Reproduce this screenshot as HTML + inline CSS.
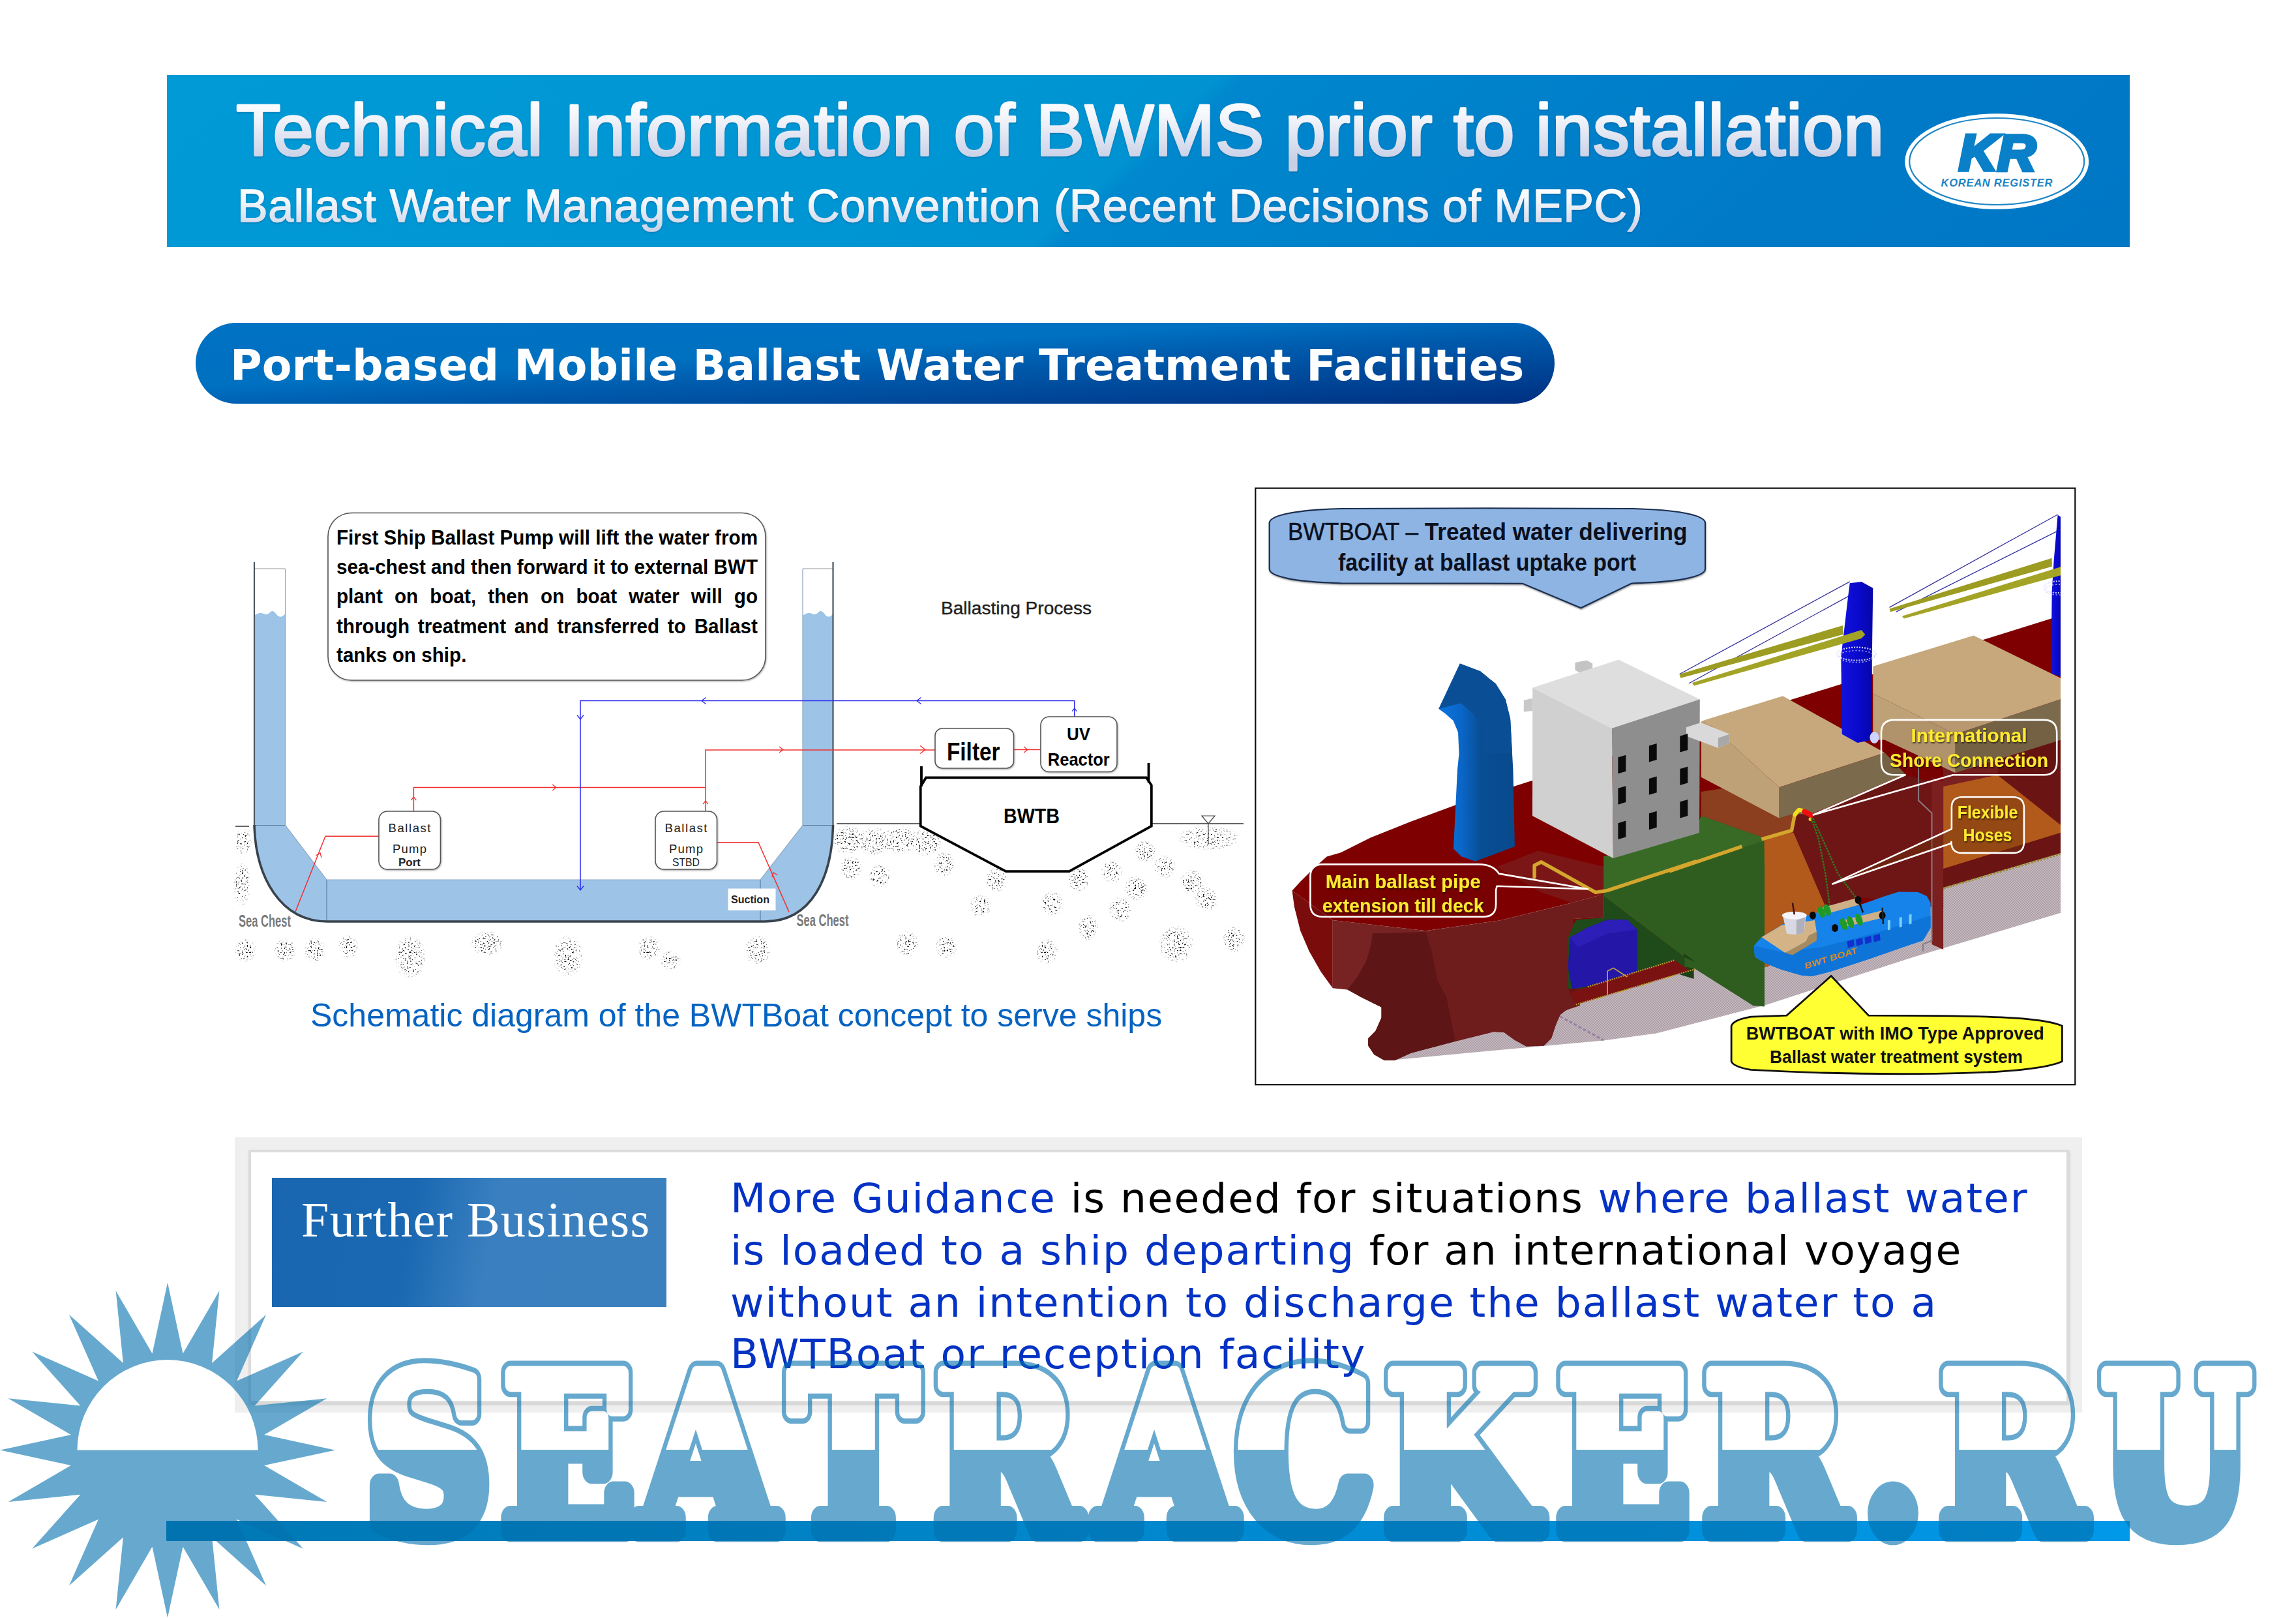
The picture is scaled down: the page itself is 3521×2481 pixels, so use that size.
<!DOCTYPE html>
<html lang="en">
<head>
<meta charset="utf-8">
<title>Technical Information of BWMS prior to installation</title>
<style>
html,body{margin:0;padding:0;background:#fff;}
body{width:3521px;height:2481px;position:relative;overflow:hidden;font-family:"Liberation Sans",sans-serif;}
.abs{position:absolute;}
#banner{left:256px;top:115px;width:3010px;height:264px;background:linear-gradient(138deg,#009AD6 0%,#0095D3 40%,#0092D1 49%,#0087CD 50.2%,#0083CB 60%,#007AC7 80%,#0077C5 100%);}
#pill{left:300px;top:495px;width:2084px;height:124px;border-radius:62px;background:linear-gradient(to bottom right,#0072C4 0%,#0070C0 40%,#005CAE 55%,#002F80 100%);}
#pilltext{left:353px;top:518px;letter-spacing:0.09px;font-family:"DejaVu Sans",sans-serif;font-weight:bold;font-size:66.5px;line-height:84px;color:#fff;white-space:nowrap;}
#caption{left:476px;top:1527px;font-size:50px;line-height:60px;color:#0563C1;white-space:nowrap;}
#fbouter{left:360px;top:1744px;width:2833px;height:422px;background:#efefef;}
#fbinner{left:381px;top:1763px;width:2784px;height:381px;background:#fff;border:4px solid #dcdcdc;box-shadow:1px 2px 3px rgba(0,0,0,.15);}
#fbbox{left:417px;top:1806px;width:605px;height:198px;background:linear-gradient(100deg,#1a66b0 0%,#1a68b2 35%,#3a80c0 55%,#3a80be 100%);}
#fbtext{left:462px;top:1828px;font-family:"Liberation Serif",serif;font-size:76px;line-height:84px;letter-spacing:1.4px;color:#fff;white-space:nowrap;}
#para{left:1120px;top:1798px;font-family:"DejaVu Sans",sans-serif;font-size:63px;line-height:79.8px;letter-spacing:1.95px;color:#000;white-space:nowrap;}
#para b{font-weight:normal;color:#0432c4;}
#botbar{left:255px;top:2332px;width:3011px;height:31px;background:linear-gradient(90deg,#0078B4,#0098E8);}
</style>
</head>
<body>
<div id="banner" class="abs"></div>
<svg class="abs" style="left:256px;top:115px" width="3010" height="264" viewBox="256 115 3010 264">
<defs><linearGradient id="tg1" gradientUnits="userSpaceOnUse" x1="0" y1="150" x2="0" y2="245"><stop offset="0" stop-color="#ffffff"/><stop offset=".3" stop-color="#f4f6fb"/><stop offset="1" stop-color="#c9d0e6"/></linearGradient>
<linearGradient id="tg2" gradientUnits="userSpaceOnUse" x1="0" y1="288" x2="0" y2="358"><stop offset="0" stop-color="#ffffff"/><stop offset=".3" stop-color="#f2f5fa"/><stop offset="1" stop-color="#c9d0e6"/></linearGradient>
<filter id="tsh0" x="-1%" y="-10%" width="102%" height="130%"><feDropShadow dx="0" dy="1.5" stdDeviation="1.2" flood-color="#003a70" flood-opacity=".35"/></filter></defs>
<text id="title" x="362" y="237.7" font-family="Liberation Sans, sans-serif" font-size="112" fill="url(#tg1)" stroke="url(#tg1)" stroke-width="3.4" stroke-linejoin="round" letter-spacing="0.5" filter="url(#tsh0)">Technical Information of BWMS prior to installation</text>
<text id="subtitle" x="364" y="340.3" font-family="Liberation Sans, sans-serif" font-size="70" fill="url(#tg2)" stroke="url(#tg2)" stroke-width="1.3" stroke-linejoin="round" letter-spacing="0.48" filter="url(#tsh0)">Ballast Water Management Convention (Recent Decisions of MEPC)</text>
</svg>
<svg class="abs" style="left:2900px;top:160px" width="330" height="180" viewBox="2900 160 330 180">
<ellipse cx="3062.2" cy="247.5" rx="141" ry="73.3" fill="#fff"/>
<ellipse cx="3062.2" cy="247.5" rx="134" ry="66.5" fill="none" stroke="#1e86c6" stroke-width="2.2"/>
<text x="3063" y="260.5" text-anchor="middle" font-family="Liberation Sans, sans-serif" font-weight="bold" font-style="italic" font-size="78" fill="#0a80c8" stroke="#0a80c8" stroke-width="5.5" stroke-linejoin="miter" textLength="118" lengthAdjust="spacingAndGlyphs">KR</text>
<text x="3062" y="286" text-anchor="middle" font-family="Liberation Sans, sans-serif" font-weight="bold" font-style="italic" font-size="16.5" fill="#1a84c4" textLength="171" lengthAdjust="spacing">KOREAN REGISTER</text>
</svg>
<div id="pill" class="abs"></div>
<div id="pilltext" class="abs">Port-based Mobile Ballast Water Treatment Facilities</div>
<svg class="abs" style="left:0;top:0" width="3521" height="2481" viewBox="0 0 3521 2481"><defs>
<filter id="spk" x="0" y="0" width="100%" height="100%" color-interpolation-filters="sRGB"><feTurbulence type="fractalNoise" baseFrequency="0.42" numOctaves="2" seed="11" result="n"/><feColorMatrix in="n" type="matrix" values="0 0 0 0 0  0 0 0 0 0  0 0 0 0 0  10 0 0 0 -6.1"/></filter>
<radialGradient id="blobg"><stop offset="0" stop-color="#fff"/><stop offset=".6" stop-color="#fff" stop-opacity=".85"/><stop offset="1" stop-color="#fff" stop-opacity="0"/></radialGradient>
<marker id="ar" viewBox="-6 -5 7 10" markerWidth="7" markerHeight="10" markerUnits="userSpaceOnUse" orient="auto" refX="0" refY="0" overflow="visible"><path d="M-6,-4.5 L0,0 L-6,4.5" fill="none" stroke="#f22" stroke-width="1.3"/></marker>
<marker id="ab" viewBox="-6 -5 7 10" markerWidth="7" markerHeight="10" markerUnits="userSpaceOnUse" orient="auto" refX="0" refY="0" overflow="visible"><path d="M-7,-4.5 L0,0 L-7,4.5" fill="none" stroke="#22e" stroke-width="1.3"/></marker>
<mask id="blobs" maskUnits="userSpaceOnUse" x="350" y="1240" width="1570" height="260">
<defs><filter id="bsh" x="-5%" y="-5%" width="112%" height="115%"><feDropShadow dx="0.8" dy="1.2" stdDeviation="1" flood-color="#000" flood-opacity=".35"/></filter></defs>
<ellipse cx="376.6" cy="1457" rx="17.25" ry="18.4" fill="url(#blobg)"/>
<ellipse cx="437" cy="1457" rx="17.25" ry="18.4" fill="url(#blobg)"/>
<ellipse cx="483" cy="1457" rx="17.25" ry="19.55" fill="url(#blobg)"/>
<ellipse cx="534" cy="1452" rx="17.25" ry="18.4" fill="url(#blobg)"/>
<ellipse cx="629" cy="1467.6" rx="25.3" ry="34.5" fill="url(#blobg)"/>
<ellipse cx="747" cy="1446.7" rx="26.45" ry="19.55" fill="url(#blobg)"/>
<ellipse cx="871" cy="1466" rx="24.15" ry="32.2" fill="url(#blobg)"/>
<ellipse cx="995" cy="1453.7" rx="18.4" ry="19.55" fill="url(#blobg)"/>
<ellipse cx="1028" cy="1473" rx="16.1" ry="16.1" fill="url(#blobg)"/>
<ellipse cx="373" cy="1290" rx="13.8" ry="20.7" fill="url(#blobg)"/>
<ellipse cx="371" cy="1356" rx="13.8" ry="34.5" fill="url(#blobg)"/>
<ellipse cx="1305" cy="1331" rx="17.25" ry="18.4" fill="url(#blobg)"/>
<ellipse cx="1349" cy="1343.5" rx="17.25" ry="19.55" fill="url(#blobg)"/>
<ellipse cx="1447.6" cy="1325" rx="17.25" ry="19.55" fill="url(#blobg)"/>
<ellipse cx="1528" cy="1349" rx="17.25" ry="19.55" fill="url(#blobg)"/>
<ellipse cx="1504" cy="1389" rx="17.25" ry="18.4" fill="url(#blobg)"/>
<ellipse cx="1614" cy="1385.6" rx="18.4" ry="19.55" fill="url(#blobg)"/>
<ellipse cx="1654" cy="1349" rx="17.25" ry="19.55" fill="url(#blobg)"/>
<ellipse cx="1705.5" cy="1336" rx="17.25" ry="19.55" fill="url(#blobg)"/>
<ellipse cx="1756.7" cy="1305" rx="17.25" ry="17.25" fill="url(#blobg)"/>
<ellipse cx="1786" cy="1329" rx="17.25" ry="18.4" fill="url(#blobg)"/>
<ellipse cx="1742" cy="1361.8" rx="18.4" ry="19.55" fill="url(#blobg)"/>
<ellipse cx="1718" cy="1394.8" rx="18.4" ry="20.7" fill="url(#blobg)"/>
<ellipse cx="1669" cy="1422" rx="16.1" ry="20.7" fill="url(#blobg)"/>
<ellipse cx="1605" cy="1458.8" rx="18.4" ry="19.55" fill="url(#blobg)"/>
<ellipse cx="1451" cy="1451.5" rx="17.25" ry="19.55" fill="url(#blobg)"/>
<ellipse cx="1391" cy="1447.8" rx="18.4" ry="20.7" fill="url(#blobg)"/>
<ellipse cx="1162" cy="1457" rx="20.7" ry="23" fill="url(#blobg)"/>
<ellipse cx="1828" cy="1352.7" rx="19.55" ry="19.55" fill="url(#blobg)"/>
<ellipse cx="1850" cy="1378" rx="18.4" ry="19.55" fill="url(#blobg)"/>
<ellipse cx="1804" cy="1447.8" rx="27.6" ry="29.9" fill="url(#blobg)"/>
<ellipse cx="1892" cy="1440.5" rx="18.4" ry="20.7" fill="url(#blobg)"/>
<ellipse cx="1853.7" cy="1285" rx="48.3" ry="19.55" fill="url(#blobg)"/>
<ellipse cx="1300" cy="1288" rx="27.6" ry="21.85" fill="url(#blobg)"/>
<ellipse cx="1340" cy="1290" rx="29.9" ry="21.85" fill="url(#blobg)"/>
<ellipse cx="1380" cy="1288" rx="29.9" ry="21.85" fill="url(#blobg)"/>
<ellipse cx="1420" cy="1292" rx="25.3" ry="21.85" fill="url(#blobg)"/>
</mask></defs>
<g mask="url(#blobs)"><rect x="350" y="1240" width="1570" height="260" fill="#000" filter="url(#spk)"/></g>
<path d="M361,1267 H382 M1283,1263 H1412 M1766,1263 H1907" stroke="#333" stroke-width="1.6" fill="none"/>
<path d="M1843,1251 H1863 L1853,1263 Z M1853,1263 V1294" stroke="#444" stroke-width="1.2" fill="none"/>
<path d="M390,944 q8,-6 14,-3 t10,-2 t10,3 t13.5,-1 V1265.5 L501,1349 H1166 L1231,1265.5 V944 q8,-6 14,-3 t10,-2 t10,3 t12.5,-1 V1265.5 C1276,1345 1245,1413.5 1173,1413.5 H502 C430,1413.5 392,1345 390,1265.5 Z" fill="#9dc3e6"/>
<path d="M390,1265.5 H437.5 M1231,1265.5 H1277.5 M501,1349 V1413 M1166,1349 V1413" stroke="#5f7f9f" stroke-width="1.2" fill="none"/>
<path d="M437.5,872 V1265.5 L501,1349 H1166 L1231,1265.5 V872" stroke="#8aa6c2" stroke-width="1.2" fill="none"/>
<path d="M391,872 H437.5 M1231,872 H1277" stroke="#bbb" stroke-width="1.5" fill="none"/>
<path d="M390,862 V1266 M1277.5,862 V1266" fill="none" stroke="#4a5560" stroke-width="2.2"/>
<path d="M390,1265 C392,1345 430,1413 502,1413 H1173 C1245,1413 1276,1345 1277.5,1265" fill="none" stroke="#39434e" stroke-width="3.6"/>
<rect x="1116.5" y="1362.5" width="73" height="33.5" fill="#fff"/>
<g fill="none" stroke="#f03030" stroke-width="1.5">
<path d="M634.4,1244 V1207.4 H1082 M1082,1244 V1150 H1434 M1554.5,1149.6 H1596"/>
<path d="M581,1282.3 H499 L453,1398 M1099.5,1291.7 H1163 L1210,1398.4"/>
</g>
<path d="M-5.85,-4.5 L0,0 L-5.85,4.5" transform="translate(853,1207.4) rotate(0)" fill="none" stroke="#f03030" stroke-width="1.3"/>
<path d="M-5.2,-4 L0,0 L-5.2,4" transform="translate(634.4,1222) rotate(-90)" fill="none" stroke="#f03030" stroke-width="1.3"/>
<path d="M-5.2,-4 L0,0 L-5.2,4" transform="translate(1082,1228) rotate(-90)" fill="none" stroke="#f03030" stroke-width="1.3"/>
<path d="M-5.85,-4.5 L0,0 L-5.85,4.5" transform="translate(1201,1149.6) rotate(0)" fill="none" stroke="#f03030" stroke-width="1.3"/>
<path d="M-7.8,-6 L0,0 L-7.8,6" transform="translate(1419,1149.6) rotate(0)" fill="none" stroke="#f03030" stroke-width="1.3"/>
<path d="M-5.85,-4.5 L0,0 L-5.85,4.5" transform="translate(1576,1149.6) rotate(0)" fill="none" stroke="#f03030" stroke-width="1.3"/>
<path d="M-5.85,-4.5 L0,0 L-5.85,4.5" transform="translate(491,1308) rotate(-68)" fill="none" stroke="#f03030" stroke-width="1.3"/>
<path d="M-5.85,-4.5 L0,0 L-5.85,4.5" transform="translate(1186,1338) rotate(-112)" fill="none" stroke="#f03030" stroke-width="1.3"/>
<path d="M1647.7,1099 V1074.6 H890 V1365" fill="none" stroke="#2a2af0" stroke-width="1.5"/>
<path d="M-6.5,-5 L0,0 L-6.5,5" transform="translate(1406,1074.6) rotate(180)" fill="none" stroke="#2a2af0" stroke-width="1.3"/>
<path d="M-6.5,-5 L0,0 L-6.5,5" transform="translate(1076,1074.6) rotate(180)" fill="none" stroke="#2a2af0" stroke-width="1.3"/>
<path d="M-6.5,-5 L0,0 L-6.5,5" transform="translate(890,1103) rotate(90)" fill="none" stroke="#2a2af0" stroke-width="1.3"/>
<path d="M-6.5,-5 L0,0 L-6.5,5" transform="translate(890,1365) rotate(90)" fill="none" stroke="#2a2af0" stroke-width="1.3"/>
<path d="M-4.55,-3.5 L0,0 L-4.55,3.5" transform="translate(1647.7,1086) rotate(-90)" fill="none" stroke="#2a2af0" stroke-width="1.3"/>
<rect x="503" y="786.5" width="671" height="256.5" rx="36" fill="#fff" stroke="#555" stroke-width="1.6" filter="url(#bsh)"/>
<rect x="581" y="1244" width="94.5" height="89" rx="13" fill="#fff" stroke="#555" stroke-width="1.6" filter="url(#bsh)"/>
<rect x="1005" y="1244" width="94.5" height="89" rx="13" fill="#fff" stroke="#555" stroke-width="1.6" filter="url(#bsh)"/>
<rect x="1434" y="1117" width="120.5" height="61" rx="11" fill="#fff" stroke="#555" stroke-width="1.6" filter="url(#bsh)"/>
<rect x="1596" y="1099" width="117" height="84.5" rx="13" fill="#fff" stroke="#555" stroke-width="1.6" filter="url(#bsh)"/>
<path d="M1413,1175 V1206 M1761.5,1170 V1200 M1411.7,1266.7 V1206 L1420,1192.4 H1758 L1765.8,1204 V1266.7 L1639.6,1336.2 H1542.7 Z" fill="none" stroke="#000" stroke-width="3.8" stroke-linejoin="miter"/>
<g transform="translate(516,0) scale(0.957,1)" font-family="Liberation Sans, sans-serif" font-weight="bold" font-size="31" fill="#000">
<text x="0" y="835" word-spacing="0" textLength="675.026" lengthAdjust="spacing">First Ship Ballast Pump will lift the water from</text>
<text x="0" y="879.8" word-spacing="0" textLength="675.026" lengthAdjust="spacing">sea-chest and then forward it to external BWT</text>
<text x="0" y="925.3" word-spacing="10.3" textLength="675.026" lengthAdjust="spacing">plant on boat, then on boat water will go</text>
<text x="0" y="970.6" word-spacing="4.8" textLength="675.026" lengthAdjust="spacing">through treatment and transferred to Ballast</text>
<text x="0" y="1015.5" word-spacing="0">tanks on ship.</text>
</g>
<text x="1443" y="942" font-family="Liberation Sans, sans-serif" font-size="27" fill="#222" stroke="#222" stroke-width=".4" textLength="231" lengthAdjust="spacingAndGlyphs">Ballasting Process</text>
<g font-family="Liberation Sans, sans-serif" font-size="18.5" fill="#222" text-anchor="middle"><text x="628" y="1276" textLength="65" lengthAdjust="spacing">Ballast</text><text x="628" y="1308" textLength="52" lengthAdjust="spacing">Pump</text><text x="628" y="1327.5" font-weight="bold" font-size="17">Port</text><text x="1052" y="1276" textLength="65" lengthAdjust="spacing">Ballast</text><text x="1052" y="1308" textLength="52" lengthAdjust="spacing">Pump</text><text x="1052" y="1327.5" font-size="17" textLength="42" lengthAdjust="spacingAndGlyphs">STBD</text></g>
<text x="1452" y="1166" font-family="Liberation Sans, sans-serif" font-weight="bold" font-size="38" textLength="81.5" lengthAdjust="spacingAndGlyphs">Filter</text>
<text x="1654" y="1135" font-family="Liberation Sans, sans-serif" font-weight="bold" font-size="28" text-anchor="middle" textLength="36" lengthAdjust="spacingAndGlyphs">UV</text>
<text x="1654.3" y="1174" font-family="Liberation Sans, sans-serif" font-weight="bold" font-size="28" text-anchor="middle" textLength="95" lengthAdjust="spacingAndGlyphs">Reactor</text>
<text x="1539" y="1262.3" font-family="Liberation Sans, sans-serif" font-weight="bold" font-size="32" textLength="86" lengthAdjust="spacingAndGlyphs">BWTB</text>
<text x="1121" y="1385" font-family="Liberation Sans, sans-serif" font-weight="bold" font-size="17" fill="#222" textLength="59" lengthAdjust="spacingAndGlyphs">Suction</text>
<g font-family="Liberation Sans, sans-serif" font-weight="bold" font-size="25" fill="#7a7a7a"><text x="366" y="1420.6" textLength="80" lengthAdjust="spacingAndGlyphs">Sea Chest</text><text x="1221.5" y="1420" textLength="80" lengthAdjust="spacingAndGlyphs">Sea Chest</text></g></svg>
<div id="caption" class="abs">Schematic diagram of the BWTBoat concept to serve ships</div>
<svg class="abs" style="left:0;top:0" width="3521" height="2481" viewBox="0 0 3521 2481"><defs><clipPath id="shipclip"><rect x="1927" y="750" width="1233" height="912"/></clipPath><pattern id="chk" width="4" height="4" patternUnits="userSpaceOnUse"><rect width="4" height="4" fill="#c4b8bd"/><rect width="2" height="2" fill="#ad9fa8"/><rect x="2" y="2" width="2" height="2" fill="#ad9fa8"/></pattern><linearGradient id="fun" x1="0" x2="1"><stop offset="0" stop-color="#0b74e0"/><stop offset=".3" stop-color="#0a66c8"/><stop offset=".55" stop-color="#084e94"/><stop offset="1" stop-color="#084a8c"/></linearGradient><linearGradient id="col" x1="0" x2="1"><stop offset="0" stop-color="#1212e0"/><stop offset=".6" stop-color="#0909c8"/><stop offset="1" stop-color="#0606a8"/></linearGradient><filter id="tsh" x="-10%" y="-20%" width="120%" height="150%"><feDropShadow dx="1" dy="1.5" stdDeviation="0.8" flood-color="#000" flood-opacity=".75"/></filter></defs>
<defs><filter id="csh" x="-3%" y="-5%" width="106%" height="115%"><feDropShadow dx="0.5" dy="1.5" stdDeviation="1.2" flood-color="#000" flood-opacity=".4"/></filter></defs>
<g clip-path="url(#shipclip)">
<polygon points="2138.1,1625.3 2192.6,1573.8 2392.5,1513.2 2540,1452.6 2709.6,1422.3 2979.2,1361.7 3160.9,1307.2 3160.9,1399.6 2933.8,1467.8 2709.6,1540.4 2540,1584.4 2459.2,1595.6 2283.5,1611.6" fill="url(#chk)" />
<polygon points="1981.5,1365.7 1994,1352.1 2016.6,1329.4 2034.7,1313.6 2056.3,1307.2 2101.7,1284.5 2162.3,1260.3 2232,1234.5 2350.1,1196.7 3160,944 3160.9,1307.2 2979.2,1361.7 2980.1,1360.9 2804.7,1401.7 2600,1482.9 2416.7,1540.4 2403.9,1546.9 2410.7,1512.9 2413,1408.7 2458.3,1406.4 2458.3,1371.3 2410.7,1384.3 2299.7,1411.4 2186.5,1427.3 2043.8,1411" fill="#7f0000" />
<polygon points="1981.5,1365.7 2043.8,1411 2043.8,1515.2 2025.7,1490.2 2007.6,1458.5 1994,1426.8 1984.9,1390.6" fill="#7a0c0c" />
<polygon points="2043.8,1411 2186.5,1427.3 2299.7,1411.4 2410.7,1384.3 2458.3,1371.3 2458.3,1406.4 2413,1408.7 2410.7,1512.9 2403.9,1546.9 2392.6,1555.9 2385.8,1571.8 2379,1592.2 2367.7,1603.5 2340.5,1604.6 2322.4,1594.4 2306.5,1583.1 2290.7,1582 2231.8,1596.7 2163.8,1614.8 2138.9,1626.1 2123.1,1626.1 2107.2,1617.1 2098.2,1603.5 2098.2,1592.2 2109.5,1580.8 2118.5,1560.5 2118.5,1544.6 2104.9,1537.8 2086.8,1528.7 2066.4,1517.4 2043.8,1515.2" fill="#772323" />
<polygon points="2186.5,1429.1 2299.7,1412.1 2410.7,1384.9 2458.3,1372 2458.3,1406.4 2413,1408.7 2410.7,1512.9 2403.9,1546.9 2392.6,1555.9 2385.8,1571.8 2379,1592.2 2367.7,1603.5 2340.5,1604.6 2322.4,1594.4 2306.5,1583.1 2290.7,1582 2231.8,1596.7 2218.2,1528.7 2204.6,1503.8 2195.5,1458.5" fill="#6e1c1c" />
<polygon points="2104.9,1431.4 2186.5,1429.1 2195.5,1458.5 2204.6,1503.8 2218.2,1528.7 2231.8,1596.7 2163.8,1614.8 2138.9,1626.1 2123.1,1626.1 2107.2,1617.1 2098.2,1603.5 2098.2,1592.2 2109.5,1580.8 2118.5,1560.5 2118.5,1544.6 2104.9,1537.8 2086.8,1528.7 2066.4,1517.4 2082.3,1497 2095.9,1472.1 2102.7,1447.2" fill="#5d1515" />
<polygon points="2295.2,1329.4 2358.6,1304.5 2480,1334 2480,1367.9 2442.4,1374.7 2410.7,1384.3 2363.1,1367.9" fill="#7a1616" />
<polygon points="2400.1,1507.1 2422.8,1507.1 2422.8,1542 2404.6,1548 2392.5,1554.1" fill="#6e1c1c" />
<polygon points="2404.6,1516.2 2600,1470.8 2600,1482.9 2416.7,1540.4" fill="#6a1212" />
<polygon points="2416.7,1410.2 2459.2,1407.2 2459.2,1373.9 2583.3,1467.8 2583.3,1485.9 2510.6,1513.2 2404.6,1516.2 2404.6,1437.5" fill="#1f4a19" />
<polygon points="2407.7,1437.5 2434.9,1422.3 2465.2,1410.2 2495.5,1410.2 2510.6,1425.3 2510.6,1501.1 2410.7,1516.2 2404.6,1482.9" fill="#2416a6" />
<polygon points="2407.7,1437.5 2434.9,1422.3 2465.2,1410.2 2495.5,1410.2 2510.6,1425.3 2465.2,1431.4 2419.8,1452.6" fill="#2c1eb6" />
<polygon points="2459.2,1313.3 2600,1273.9 2608.9,1250.7 2705.5,1284.7 2706,1284.5 2706,1543.5 2688.4,1542 2597.6,1484.4 2582.4,1482.9 2582.4,1461.7 2583.3,1467.8 2459.2,1373.9" fill="#2f5d1f" />
<polygon points="2459.2,1313.3 2600,1273.9 2608.9,1250.7 2705.5,1284.7 2706,1289 2459.2,1367.8" fill="#386a25" />
<polygon points="2583.3,1467.8 2600,1475.3 2582.4,1461.7 2582.4,1482.9 2597.6,1484.4 2597.6,1501.1 2540,1482.9 2583.3,1485.9" fill="#1c3f15" />
<polygon points="2422.8,1516.8 2568.2,1472.3 2590.9,1488.3 2416.7,1540.4 2407.7,1522.3" fill="#7a1212" />
<polyline points="2434.9,1513.2 2568.2,1472.3" fill="none" stroke="#b89a30" stroke-width="2.2" stroke-dasharray="2 1.5"/>
<polyline points="2416.7,1540.4 2600,1485.9" fill="none" stroke="#b89a30" stroke-width="2.2" stroke-dasharray="2 1.5"/>
<polyline points="2465.2,1525.3 2465.2,1489 2474.3,1484.4 2495.5,1498" fill="none" stroke="#c8aa40" stroke-width="1.6" />
<polyline points="2392.5,1558.6 2459.2,1595" fill="none" stroke="#9a80a0" stroke-width="3" stroke-dasharray="5 3"/>
<polygon points="2608.9,1214 2641.6,1209.1 2728.6,1254.8 2750.4,1248 2750.4,1276.6 2705.5,1284.7 2608.9,1250.7" fill="#8b3f1e" />
<polygon points="2705.5,1284.7 2750.4,1276.6 2804.7,1401.7 2706.8,1415.3" fill="#b25a1c" />
<polygon points="2706,1284.5 2752,1280 2812.6,1422.3 2709.6,1482.9 2706,1482.9" fill="#b25a1c" />
<polygon points="2750.4,1276.6 2750.4,1248 2777.5,1248.8 2921.7,1188.2 2980.1,1203.2 2980.1,1393.5 2852.3,1375.8 2804.7,1401.7" fill="#6e1616" />
<polygon points="2980.1,1108 3161,1056.3 3161,1265.7 3063.1,1188.2 2980.1,1205.9" fill="#7a2020" />
<polygon points="3065.8,1154.2 3161,1121.6 3161,1265.7 3063.1,1188.2" fill="#6a1414" />
<polygon points="2980.1,1205.9 3063.1,1188.2 3161,1265.7 3161,1276.6 2980.1,1332.3" fill="#b25a1c" />
<polygon points="2980.1,1332.3 3161,1276.6 3161,1307.9 2980.1,1360.9" fill="#6a1414" />
<polyline points="2980.1,1362.2 3161,1309.2" fill="none" stroke="#9a8a30" stroke-width="3" stroke-dasharray="3 2"/>
<polygon points="2962.5,1192.3 2980.1,1197.7 2980.1,1456.1 2962.5,1447.9" fill="#7c1f1f" />
<polyline points="2942.1,1143.3 2942.1,1227.6 2962.5,1246.7 2962.5,1442.5 2948.9,1447.9 2948.9,1458.8" fill="none" stroke="#8a7a80" stroke-width="2" />
<polygon points="2608.9,1106.6 2614.4,1103.9 2728.6,1207.2 2728.6,1254.8 2608.9,1191.7" fill="#bea177" />
<polygon points="2614.4,1103.9 2734,1067.2 2890.4,1154.2 2728.6,1207.2" fill="#c6a87c" />
<polygon points="2728.6,1207.2 2890.4,1154.2 2921.7,1186.8 2777.5,1248.8 2750.4,1248 2728.6,1254.8" fill="#7b6a4b" />
<polygon points="2872.3,1021.8 3026.6,974.4 3160.1,1039.7 3160.1,1072.3 2998.4,1125.7 2872.3,1063.4" fill="#c6a87c" />
<polygon points="2998.4,1125.7 3160.1,1072.3 3160.1,1134.6 2998.4,1185" fill="#7b6a4b" />
<polygon points="2872.3,1063.4 2998.4,1125.7 2998.4,1185 2890.1,1134.6 2872.3,1134.6" fill="#bea177" />
<polyline points="2575.6,1033.7 2836.7,891.9" fill="none" stroke="#34349c" stroke-width="1.3" />
<polyline points="2589.8,1048 2856,902.6" fill="none" stroke="#34349c" stroke-width="1.3" />
<polygon points="2575.6,1033.7 2826.3,959 2826.3,972.9 2577.1,1039.7" fill="#9c9c22" />
<polygon points="2836.7,894.3 2854.5,891.9 2872.3,901.7 2870.8,1007 2870.8,1134.6 2848.6,1139 2824.8,1125.7 2823.3,1007 2833.7,918" fill="url(#col)" />
<polygon points="2594.9,1047.1 2854.5,966.1 2860.4,972.9 2854.5,979.1 2597.9,1051.5" fill="#a3a326" />
<ellipse cx="2847.1" cy="1002.6" rx="30" ry="10" fill="none" stroke="#dfe3ff" stroke-width="2.2" stroke-dasharray="2 2" opacity=".9"/>
<ellipse cx="2847.1" cy="1006.6" rx="27.6" ry="9" fill="none" stroke="#c8ccff" stroke-width="1.6" stroke-dasharray="2 3" opacity=".8"/>
<ellipse cx="2874.4" cy="1131" rx="7" ry="9" fill="#cfd3ff"/>
<polyline points="2897.5,931.4 3155.6,789" fill="none" stroke="#34349c" stroke-width="1.3" />
<polyline points="2907.9,938.2 3155.6,814.2" fill="none" stroke="#34349c" stroke-width="1.3" />
<polygon points="2897.5,933.4 3146.7,855.7 3146.7,868.8 2899,938.2" fill="#9c9c22" />
<polygon points="3155.6,789.8 3161.6,793.4 3161.6,1038.2 3145.2,1032.2 3146.7,906.1 3149.7,858.7" fill="url(#col)" />
<polygon points="2916.8,944.7 3161.6,868.8 3161.6,881.8 2919.8,948.6" fill="#a3a326" />
<ellipse cx="3156.5" cy="900.2" rx="22" ry="9" fill="none" stroke="#dfe3ff" stroke-width="2.2" stroke-dasharray="2 2" opacity=".9"/>
<ellipse cx="3156.5" cy="904.2" rx="20.24" ry="8.1" fill="none" stroke="#c8ccff" stroke-width="1.6" stroke-dasharray="2 3" opacity=".8"/>
<polygon points="2238.9,1017.4 2270.1,1029.3 2293.8,1048.6 2308.7,1072.3 2316.1,1102 2319,1155.4 2320.4,1180 2322.9,1298.1 2262.3,1320.8 2241.1,1313.3 2229,1301.2 2235,1180 2237.5,1155.4 2236,1122.7 2228.6,1104.9 2216.7,1094.5 2206.3,1087.1" fill="url(#fun)" />
<polygon points="2238.9,1017.4 2270.1,1029.3 2293.8,1048.6 2308.7,1072.3 2316.1,1102 2319,1155.4 2276,1155.4 2273.1,1119.8 2261.2,1096 2240.4,1078.2 2206.3,1087.1" fill="#0a4f96" />
<polygon points="2415.5,1015.9 2433.3,1012.4 2442.2,1017.4 2442.2,1029.3 2424.4,1032.2 2415.5,1027.8" fill="#c4c4c4" />
<polygon points="2336.8,1073.8 2350.2,1070.8 2350.2,1090.1 2336.8,1091.6" fill="#c8c8c8" />
<polygon points="2350.2,1054.5 2482.2,1011.5 2606.8,1072.3 2471.8,1116.8" fill="#dedede" />
<polygon points="2350.2,1054.5 2471.8,1116.8 2474,1316 2350,1251" fill="#d0d0d0" />
<polygon points="2471.8,1116.8 2606.8,1072.3 2606,1277 2474,1316" fill="#8e8e8e" />
<polygon points="2586,1115.3 2608.2,1107.9 2652.7,1125.7 2652.7,1139 2634.9,1147.1 2586,1128.7" fill="#d9d9d9" />
<polygon points="2634.9,1131.6 2652.7,1125.7 2652.7,1139 2634.9,1147.1" fill="#a8a8a8" />
<polygon points="2481.4,1161.3 2493.3,1157.7 2493.3,1182.7 2481.4,1186.2" fill="#0a0a0a" />
<polygon points="2528.9,1143.5 2540.7,1139.9 2540.7,1164.9 2528.9,1168.4" fill="#0a0a0a" />
<polygon points="2576.3,1128.7 2588.2,1125.1 2588.2,1150 2576.3,1153.6" fill="#0a0a0a" />
<polygon points="2481.4,1208.8 2493.3,1205.2 2493.3,1230.1 2481.4,1233.7" fill="#0a0a0a" />
<polygon points="2528.9,1193.9 2540.7,1190.4 2540.7,1215.3 2528.9,1218.8" fill="#0a0a0a" />
<polygon points="2576.3,1179.1 2588.2,1175.5 2588.2,1200.5 2576.3,1204" fill="#0a0a0a" />
<polygon points="2481.4,1262.2 2493.3,1258.6 2493.3,1283.5 2481.4,1287.1" fill="#0a0a0a" />
<polygon points="2528.9,1247.3 2540.7,1243.8 2540.7,1268.7 2528.9,1272.2" fill="#0a0a0a" />
<polygon points="2576.3,1229.5 2588.2,1226 2588.2,1250.9 2576.3,1254.4" fill="#0a0a0a" />
<polyline points="2353.1,1345.1 2353.1,1326.9 2363.7,1321.8 2447,1368.4 2465.2,1365.4 2600,1321.1" fill="none" stroke="#d4a62e" stroke-width="5.5" stroke-linejoin="round" stroke-linecap="round"/>
<polyline points="2560,1335.9 2671.5,1297.8" fill="none" stroke="#d4a62e" stroke-width="5.5" />
<polyline points="2701.4,1286.9 2747.6,1273.3 2752.5,1248 2757.1,1242.6" fill="none" stroke="#d4a62e" stroke-width="5.5" stroke-linejoin="round"/>
<polyline points="2752.5,1249.4 2758.5,1241.8 2766.7,1243.4" fill="none" stroke="#f0e020" stroke-width="6" stroke-linejoin="round" stroke-linecap="round"/>
<polyline points="2767.2,1244.5 2777.5,1249.9" fill="none" stroke="#ee1010" stroke-width="8" stroke-linecap="round"/>
<circle cx="2776.2" cy="1256.2" r="2.6" fill="#f0e020"/>
<polyline points="2777.5,1254.8 2788.4,1284.7 2799.3,1339.1 2806.1,1390.8" fill="none" stroke="#2f7a1e" stroke-width="2.4" stroke-dasharray="3 1.5"/>
<polyline points="2780.3,1254.8 2796.6,1290.2 2818.3,1339.1 2849.6,1381.3" fill="none" stroke="#2f7a1e" stroke-width="2.4" stroke-dasharray="3 1.5"/>
<polygon points="2689.6,1450.3 2701.5,1437 2734,1417 2785.9,1399.2 2852.5,1387.4 2891,1374.1 2911.7,1367.4 2941.4,1368.1 2954.7,1374.1 2960.6,1384.4 2960.6,1422.9 2948.8,1442.2 2926.6,1449.6 2867.3,1470.3 2808.1,1489.6 2778.5,1497 2762.2,1495.5 2731.1,1486.6 2708.9,1477.7 2691.1,1467.4" fill="#1583ea" />
<polygon points="2689.6,1450.3 2737,1460.7 2742.9,1458.5 2793.3,1452.5 2882.1,1428.9 2960.6,1403.7 2960.6,1422.9 2948.8,1442.2 2926.6,1449.6 2867.3,1470.3 2808.1,1489.6 2778.5,1497 2762.2,1495.5 2731.1,1486.6 2708.9,1477.7 2691.1,1467.4" fill="#0e74d8" />
<polygon points="2701.5,1437 2732.6,1418.5 2782.9,1411.1 2785.9,1428.9 2774,1434.8 2769.6,1443.7 2742.9,1458.5 2737,1460.7" fill="#d4b486" />
<polygon points="2737,1460.7 2742.9,1458.5 2769.6,1443.7 2774,1434.8 2785.9,1428.9 2785.9,1442.2 2748.9,1464.4" fill="#a88a60" />
<polygon points="2734,1403.7 2769.6,1403.7 2766.6,1430.3 2754.8,1433.3 2740,1431.8" fill="#d8d8e2" />
<ellipse cx="2751.8" cy="1403.7" rx="19" ry="6" fill="#f4f4fa"/>
<polygon points="2754.8,1411.1 2768.1,1406.6 2766.6,1430.3 2754.8,1433.3" fill="#b0b0bc" />
<polyline points="2748.9,1384.4 2751.8,1402.2" fill="none" stroke="#401010" stroke-width="2.5" />
<polyline points="2793.3,1397.8 2846.6,1382.9" fill="none" stroke="#cdb088" stroke-width="11" stroke-linecap="round"/>
<polyline points="2830.3,1415.5 2885.1,1402.2" fill="none" stroke="#cdb088" stroke-width="11" stroke-linecap="round"/>
<ellipse cx="2793.3" cy="1398.5" rx="5" ry="9" fill="#1f9a28" transform="rotate(-20 2793.3 1398.5)"/>
<ellipse cx="2802.2" cy="1395.5" rx="5" ry="9" fill="#1f9a28" transform="rotate(-20 2802.2 1395.5)"/>
<ellipse cx="2827.3" cy="1417" rx="5" ry="9.5" fill="#1f9a28" transform="rotate(-20 2827.3 1417)"/>
<ellipse cx="2837.7" cy="1414" rx="5" ry="9.5" fill="#1f9a28" transform="rotate(-20 2837.7 1414)"/>
<ellipse cx="2851" cy="1410.3" rx="5" ry="9.5" fill="#1f9a28" transform="rotate(-20 2851 1410.3)"/>
<ellipse cx="2779.9" cy="1403.7" rx="5" ry="6" fill="#0a0a0a" transform="rotate(0 2779.9 1403.7)"/>
<ellipse cx="2814" cy="1422.9" rx="5" ry="6" fill="#0a0a0a" transform="rotate(0 2814 1422.9)"/>
<ellipse cx="2849.5" cy="1380" rx="5" ry="6" fill="#0a0a0a" transform="rotate(0 2849.5 1380)"/>
<ellipse cx="2886.6" cy="1403.7" rx="5" ry="6" fill="#0a0a0a" transform="rotate(0 2886.6 1403.7)"/>
<polyline points="2849.5,1378.5 2857,1399.2" fill="none" stroke="#101010" stroke-width="2.5" />
<polyline points="2886.6,1391.8 2888,1417" fill="none" stroke="#202020" stroke-width="2.5" />
<polygon points="2832.7,1443.6 2842.7,1440.6 2843.7,1450.6 2833.7,1453.6" fill="#1030d0" />
<polygon points="2846,1440.7 2856,1437.7 2857,1447.7 2847,1450.7" fill="#1030d0" />
<polygon points="2859.4,1437.7 2869.4,1434.7 2870.4,1444.7 2860.4,1447.7" fill="#1030d0" />
<polygon points="2872.7,1434.7 2882.7,1431.7 2883.7,1441.7 2873.7,1444.7" fill="#1030d0" />
<text transform="translate(2768.1,1485.9) rotate(-17) skewX(-10)" font-family="Liberation Sans, sans-serif" font-weight="bold" font-size="13" fill="#d88a20" textLength="84" lengthAdjust="spacingAndGlyphs">BWT BOAT</text>
<polygon points="2894.9,1411.5 2898.9,1410.5 2898.9,1425.5 2894.9,1426.5" fill="#7fd0f0" />
<polygon points="2912.7,1407 2916.7,1406 2916.7,1421 2912.7,1422" fill="#7fd0f0" />
<polygon points="2927.5,1402.6 2931.5,1401.6 2931.5,1416.6 2927.5,1417.6" fill="#7fd0f0" />
</g>
<path d="M2028.4,1325.4 H2267.1 Q2290.1,1325.4 2298.6,1339.6 L2434.9,1363.3 L2295.6,1358.7 L2294.1,1364.7 V1386.7 Q2294.1,1405.7 2275.1,1405.7 H2028.4 Q2009.4,1405.7 2009.4,1386.7 V1344.4 Q2009.4,1325.4 2028.4,1325.4 Z" fill="rgba(90,10,10,.18)" stroke="#fff" stroke-width="2.6" stroke-linejoin="round"/>
<text x="2151.7" y="1361.7" text-anchor="middle" font-family="Liberation Sans, sans-serif" font-weight="bold" font-size="29" fill="#ffe92e" textLength="238" lengthAdjust="spacingAndGlyphs" filter="url(#tsh)">Main ballast pipe</text>
<text x="2151.7" y="1398.7" text-anchor="middle" font-family="Liberation Sans, sans-serif" font-weight="bold" font-size="29" fill="#ffe92e" textLength="248" lengthAdjust="spacingAndGlyphs" filter="url(#tsh)">extension till deck</text>
<path d="M2905,1103.9 H3134.2 Q3154.2,1103.9 3154.2,1123.9 V1168.2 Q3154.2,1188.2 3134.2,1188.2 H2995.1 L2780.8,1249.4 L2921.7,1188.2 H2905 Q2885,1188.2 2885,1168.2 V1123.9 Q2885,1103.9 2905,1103.9 Z" fill="rgba(60,20,10,.10)" stroke="#fff" stroke-width="2.6" stroke-linejoin="round"/>
<text x="3019.6" y="1137.9" text-anchor="middle" font-family="Liberation Sans, sans-serif" font-weight="bold" font-size="29" fill="#ffe92e" textLength="178" lengthAdjust="spacingAndGlyphs" filter="url(#tsh)">International</text>
<text x="3019.6" y="1176" text-anchor="middle" font-family="Liberation Sans, sans-serif" font-weight="bold" font-size="29" fill="#ffe92e" textLength="243" lengthAdjust="spacingAndGlyphs" filter="url(#tsh)">Shore Connection</text>
<path d="M3009.4,1222.2 H3086.9 Q3103.9,1222.2 3103.9,1239.2 V1290.9 Q3103.9,1307.9 3086.9,1307.9 H3009.4 Q2992.4,1307.9 2992.4,1290.9 V1292.9 L2810.2,1355.4 L2992.9,1271.1 V1239.2 Q2992.4,1222.2 3009.4,1222.2 Z" fill="rgba(110,50,10,.45)" stroke="#fff" stroke-width="2.6" stroke-linejoin="round"/>
<text x="3048" y="1254.8" text-anchor="middle" font-family="Liberation Sans, sans-serif" font-weight="bold" font-size="28" fill="#ffe92e" textLength="92.5" lengthAdjust="spacingAndGlyphs" filter="url(#tsh)">Flexible</text>
<text x="3048" y="1290.2" text-anchor="middle" font-family="Liberation Sans, sans-serif" font-weight="bold" font-size="28" fill="#ffe92e" textLength="75" lengthAdjust="spacingAndGlyphs" filter="url(#tsh)">Hoses</text>
<path d="M2685.1,1559.1 L2739.9,1557.1 L2808.1,1496.5 L2865.6,1557.1 C3042.4,1557.1 3132.4,1559.1 3162.4,1573.1 V1627.4 C3132.4,1641.4 3042.4,1645.4 2968.75,1646.4 C2888.75,1647.4 2775.1,1645.4 2685.1,1640.4 C2667.1,1637.4 2657.1,1633.4 2655.1,1627.4 V1573.1 C2657.1,1567.1 2667.1,1562.1 2685.1,1559.1 Z" fill="#ffff33" stroke="#111" stroke-width="2.8" stroke-linejoin="miter"/>
<text x="2677.8" y="1593.5" font-family="Liberation Sans, sans-serif" font-weight="bold" font-size="27" fill="#111" textLength="457" lengthAdjust="spacingAndGlyphs">BWTBOAT with IMO Type Approved</text>
<text x="2714" y="1629.8" font-family="Liberation Sans, sans-serif" font-weight="bold" font-size="27" fill="#111" textLength="388" lengthAdjust="spacingAndGlyphs">Ballast water treatment system</text>
<path d="M1946.7,802 C1946.7,790 1986.7,782 2056.7,780 C2196.7,779 2365,779 2505,780 C2575,782 2615,790 2615,802 V872.3 C2615,884.3 2575,892.3 2505,894.3 L2501.5,894.8 L2424.4,932.2 L2335,894.8 C2146.7,894.3 2096.7,894.3 2056.7,894.3 C1986.7,892.3 1946.7,884.3 1946.7,872.3 Z" fill="#8db4e3" stroke="#1c2f4f" stroke-width="2.2" stroke-linejoin="miter" filter="url(#csh)"/>
<text x="1975" y="827.5" font-family="Liberation Sans, sans-serif" font-size="36" fill="#0b1020" textLength="612.5" lengthAdjust="spacingAndGlyphs"><tspan stroke="#0b1020" stroke-width=".5">BWTBOAT – </tspan><tspan font-weight="bold">Treated water delivering</tspan></text>
<text x="2052" y="875" font-family="Liberation Sans, sans-serif" font-weight="bold" font-size="36" fill="#0b1020" textLength="457" lengthAdjust="spacingAndGlyphs">facility at ballast uptake port</text>
<rect x="1925.3" y="748.6" width="1257" height="914.6" fill="none" stroke="#111" stroke-width="2.2"/></svg>
<div id="fbouter" class="abs"></div>
<div id="fbinner" class="abs"></div>
<div id="fbbox" class="abs"></div>
<div id="fbtext" class="abs">Further Business</div>
<div id="para" class="abs"><b>More Guidance</b> is needed for situations <b>where ballast water</b><br><b>is loaded to a ship departing</b> for an international voyage<br><b>without an intention to discharge the ballast water to a</b><br><b>BWTBoat or reception facility</b></div>
<div id="botbar" class="abs"></div>
<svg class="abs" style="left:0;top:0" width="3521" height="2481" viewBox="0 0 3521 2481">
<defs><clipPath id="wbot"><rect x="0" y="2223.6" width="3521" height="260"/></clipPath>
<mask id="wtop" maskUnits="userSpaceOnUse" x="500" y="2040" width="3021" height="183.6"><text transform="scale(0.797,1)" x="703.7 966.4 1232.3 1518.6 1798.8 2114.4 2377.8 2664.9 2996.5 3277.5 3584.6 3733.0 4041.6" y="2346.6" font-family="DejaVu Serif, serif" font-weight="bold" font-size="332" stroke-linejoin="round" fill="#fff" stroke="#fff" stroke-width="36">SEATRACKER.RU</text><text transform="scale(0.797,1)" x="703.7 966.4 1232.3 1518.6 1798.8 2114.4 2377.8 2664.9 2996.5 3277.5 3584.6 3733.0 4041.6" y="2346.6" font-family="DejaVu Serif, serif" font-weight="bold" font-size="332" stroke-linejoin="round" fill="#000" stroke="#000" stroke-width="20">SEATRACKER.RU</text></mask></defs>
<g opacity=".6">
<path d="M257.0,1966.6 L280.5,2075.4 L336.4,1979.2 L325.1,2089.9 L408.1,2015.7 L363.1,2117.5 L464.9,2072.5 L390.7,2155.5 L501.4,2144.2 L405.2,2200.1 L514.0,2223.6 L405.2,2247.1 L501.4,2303.0 L390.7,2291.7 L464.9,2374.7 L363.1,2329.7 L408.1,2431.5 L325.1,2357.3 L336.4,2468.0 L280.5,2371.8 L257.0,2480.6 L233.5,2371.8 L177.6,2468.0 L188.9,2357.3 L105.9,2431.5 L150.9,2329.7 L49.1,2374.7 L123.3,2291.7 L12.6,2303.0 L108.8,2247.1 L0.0,2223.6 L108.8,2200.1 L12.6,2144.2 L123.3,2155.5 L49.1,2072.5 L150.9,2117.5 L105.9,2015.7 L188.9,2089.9 L177.6,1979.2 L233.5,2075.4 Z M118.5,2223.6 A138.5,138.5 0 0 1 395.5,2223.6 Z" fill="#0271ad" fill-rule="evenodd"/>
<g clip-path="url(#wbot)"><text transform="scale(0.797,1)" x="703.7 966.4 1232.3 1518.6 1798.8 2114.4 2377.8 2664.9 2996.5 3277.5 3584.6 3733.0 4041.6" y="2346.6" font-family="DejaVu Serif, serif" font-weight="bold" font-size="332" stroke-linejoin="round" fill="#0271ad" stroke="#0271ad" stroke-width="36">SEATRACKER.RU</text></g>
<rect x="500" y="2040" width="3021" height="183.6" fill="#0271ad" mask="url(#wtop)"/>
</g></svg>
</body>
</html>
